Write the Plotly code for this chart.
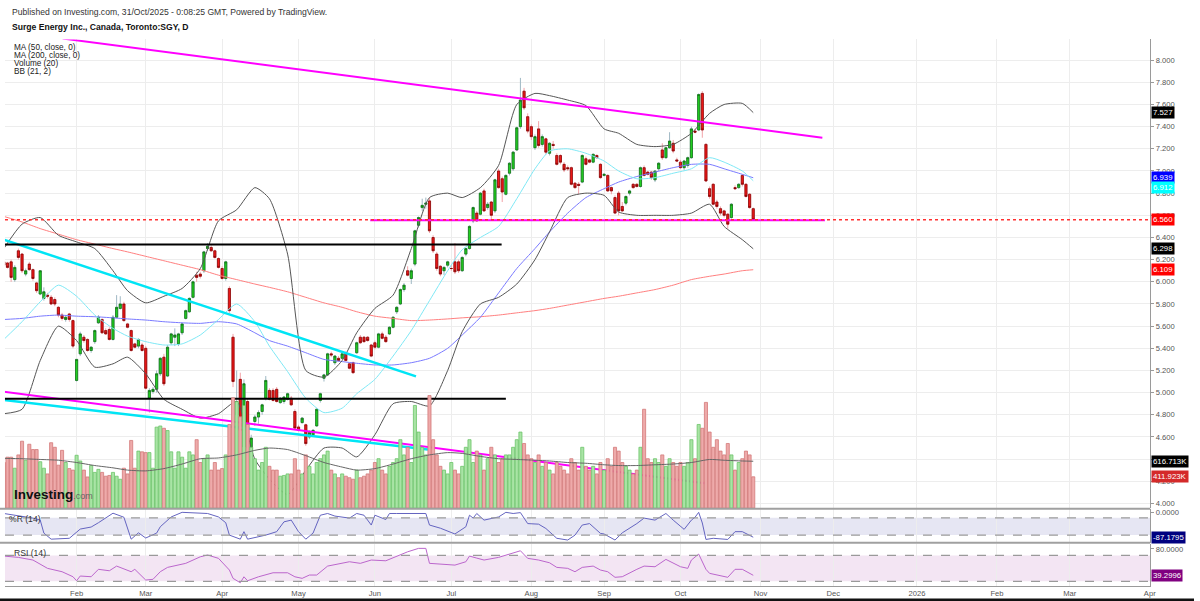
import numpy as np
import pandas as pd
import plotly.graph_objects as go

W, H = 1200, 601

# ---------------- data ----------------
HOLIDAYS = ["2025-01-01", "2025-02-17", "2025-04-18", "2025-05-19",
            "2025-07-01", "2025-08-04", "2025-09-01", "2025-10-13"]
DATES = [d.strftime("%Y-%m-%d") for d in pd.bdate_range("2025-01-02", "2025-10-30")
         if d.strftime("%Y-%m-%d") not in HOLIDAYS]

OPEN = [
    # Jan
    6.05, 6.10, 6.18, 6.17, 6.18, 6.02, 6.28, 6.25, 6.07, 6.16, 6.11, 5.99, 5.89, 5.85, 5.88, 5.86, 5.84, 5.77, 5.70, 5.66, 5.71, 5.65,
    # Feb
    5.11, 5.35, 5.50, 5.48, 5.38, 5.46, 5.63, 5.66, 5.56, 5.57, 5.48, 5.68, 5.76, 5.80, 5.62, 5.56, 5.44, 5.42, 5.43,
    # Mar
    5.40, 4.95, 5.01, 5.03, 5.17, 5.32, 5.15, 5.45, 5.50, 5.44, 5.54, 5.67, 5.73, 5.86, 6.06, 6.07, 6.10, 6.30, 6.31, 6.28, 6.21,
    # Apr
    6.12, 6.03, 5.94, 5.50, 4.80, 5.12, 4.51, 4.92, 4.48, 4.74, 4.78, 4.83, 4.95, 5.02, 5.02, 5.03, 4.91, 4.92, 4.94, 4.95, 4.83,
    # May
    4.69, 4.73, 4.71, 4.60, 4.62, 4.70, 4.93, 5.13, 5.16, 5.35, 5.27, 5.31, 5.31, 5.36, 5.26, 5.27, 5.36, 5.50, 5.50, 5.50, 5.43,
    # Jun
    5.45, 5.41, 5.53, 5.50, 5.53, 5.59, 5.73, 5.80, 5.93, 6.10, 6.03, 6.16, 6.51, 6.67, 6.70, 6.73, 6.40, 6.25, 6.14, 6.10, 6.15,
    # Jul
    6.12, 6.18, 6.18, 6.10, 6.25, 6.30, 6.55, 6.62, 6.61, 6.82, 6.67, 6.72, 6.64, 7.00, 6.93, 6.79, 6.98, 7.02, 7.19, 7.40, 7.72, 7.49,
    # Aug
    7.40, 7.21, 7.38, 7.24, 7.29, 7.16, 7.24, 7.14, 7.14, 7.06, 7.03, 7.03, 6.89, 6.88, 6.90, 7.11, 7.10, 7.08, 7.14, 7.06,
    # Sep
    6.96, 6.96, 6.85, 6.76, 6.80, 6.68, 6.71, 6.80, 6.88, 6.88, 6.86, 7.03, 6.99, 6.99, 6.92, 7.02, 7.19, 7.12, 7.21, 7.25, 7.10,
    # Oct
    7.08, 7.03, 7.05, 7.12, 7.36, 7.37, 7.70, 7.24, 6.84, 6.88, 6.72, 6.66, 6.64, 6.61, 6.58, 6.85, 6.85, 6.96, 6.88, 6.79, 6.66,
]
HIGH = [
    6.12, 6.20, 6.22, 6.18, 6.20, 6.15, 6.30, 6.26, 6.12, 6.18, 6.12, 6.00, 6.10, 5.95, 5.90, 5.88, 5.86, 5.78, 5.72, 5.70, 5.72, 5.66,
    5.30, 5.55, 5.52, 5.49, 5.42, 5.57, 5.70, 5.67, 5.58, 5.59, 5.70, 5.88, 5.87, 5.82, 5.63, 5.57, 5.45, 5.49, 5.45,
    5.42, 5.04, 5.05, 5.20, 5.32, 5.35, 5.43, 5.54, 5.58, 5.54, 5.63, 5.75, 5.86, 6.01, 6.09, 6.09, 6.28, 6.35, 6.33, 6.29, 6.22,
    6.14, 6.19, 5.96, 5.53, 5.20, 5.18, 5.12, 4.95, 4.62, 4.80, 4.84, 4.90, 5.15, 5.04, 5.04, 5.05, 4.96, 4.97, 5.00, 4.97, 4.85,
    4.71, 4.78, 4.72, 4.66, 4.67, 4.86, 5.00, 5.17, 5.36, 5.37, 5.34, 5.33, 5.36, 5.37, 5.27, 5.28, 5.46, 5.52, 5.51, 5.51, 5.44,
    5.47, 5.54, 5.55, 5.52, 5.60, 5.69, 5.78, 5.94, 5.99, 6.14, 6.12, 6.47, 6.59, 6.75, 6.76, 6.76, 6.42, 6.27, 6.15, 6.14, 6.19,
    6.15, 6.35, 6.20, 6.23, 6.31, 6.51, 6.68, 6.64, 6.81, 6.84, 6.72, 6.73, 6.93, 7.02, 6.95, 6.97, 7.08, 7.18, 7.40, 7.84, 7.75, 7.52,
    7.42, 7.33, 7.45, 7.33, 7.30, 7.26, 7.27, 7.16, 7.15, 7.08, 7.05, 7.04, 6.90, 6.90, 7.15, 7.13, 7.11, 7.16, 7.15, 7.07,
    6.98, 6.97, 6.86, 6.78, 6.82, 6.72, 6.78, 6.83, 6.89, 6.89, 7.04, 7.05, 7.00, 7.00, 7.00, 7.08, 7.25, 7.21, 7.35, 7.28, 7.12,
    7.10, 7.10, 7.13, 7.40, 7.38, 7.70, 7.72, 7.25, 6.86, 6.89, 6.74, 6.68, 6.65, 6.62, 6.71, 6.87, 6.89, 6.97, 6.89, 6.80, 6.67,
]
LOW = [
    6.02, 6.08, 6.12, 6.12, 6.00, 6.00, 6.20, 6.08, 6.05, 6.10, 6.01, 5.90, 5.88, 5.83, 5.85, 5.79, 5.78, 5.68, 5.65, 5.64, 5.64, 5.40,
    5.10, 5.33, 5.45, 5.37, 5.36, 5.44, 5.62, 5.53, 5.52, 5.47, 5.47, 5.67, 5.75, 5.64, 5.58, 5.37, 5.40, 5.40, 5.37,
    5.03, 4.82, 4.99, 5.00, 5.15, 5.06, 5.14, 5.43, 5.42, 5.42, 5.52, 5.66, 5.72, 5.85, 6.00, 6.03, 6.08, 6.28, 6.27, 6.21, 6.12,
    6.02, 6.01, 5.72, 5.05, 4.60, 4.62, 4.47, 4.48, 4.44, 4.70, 4.72, 4.80, 4.93, 4.93, 4.92, 4.91, 4.90, 4.90, 4.93, 4.88, 4.67,
    4.65, 4.72, 4.52, 4.58, 4.60, 4.69, 4.91, 5.10, 5.15, 5.32, 5.25, 5.28, 5.30, 5.28, 5.21, 5.17, 5.35, 5.44, 5.45, 5.46, 5.32,
    5.39, 5.40, 5.48, 5.45, 5.52, 5.58, 5.71, 5.79, 5.91, 6.05, 5.98, 6.14, 6.49, 6.64, 6.66, 6.44, 6.26, 6.10, 6.05, 6.06, 6.13,
    6.10, 6.07, 6.08, 6.09, 6.23, 6.29, 6.53, 6.54, 6.60, 6.63, 6.65, 6.55, 6.62, 6.84, 6.72, 6.78, 6.96, 7.00, 7.18, 7.38, 7.55, 7.34,
    7.28, 7.19, 7.21, 7.22, 7.15, 7.14, 7.20, 7.05, 7.06, 6.99, 7.00, 6.87, 6.84, 6.79, 6.89, 7.05, 7.07, 7.07, 7.11, 6.93,
    6.95, 6.81, 6.79, 6.61, 6.60, 6.63, 6.69, 6.78, 6.84, 6.85, 6.85, 6.95, 6.96, 6.92, 6.90, 7.00, 7.10, 7.11, 7.20, 7.16, 7.08,
    7.02, 7.01, 7.03, 7.11, 7.34, 7.36, 7.30, 6.90, 6.75, 6.69, 6.66, 6.60, 6.58, 6.48, 6.57, 6.83, 6.84, 6.86, 6.76, 6.66, 6.55,
]
CLOSE = [
    6.10, 6.18, 6.15, 6.13, 6.04, 6.13, 6.22, 6.10, 6.10, 6.11, 6.03, 5.92, 6.10, 5.91, 5.87, 5.80, 5.80, 5.70, 5.67, 5.68, 5.66, 5.42,
    5.30, 5.53, 5.47, 5.38, 5.41, 5.56, 5.68, 5.54, 5.53, 5.48, 5.68, 5.77, 5.80, 5.65, 5.59, 5.38, 5.41, 5.48, 5.38,
    5.04, 5.02, 5.03, 5.17, 5.31, 5.08, 5.41, 5.53, 5.52, 5.53, 5.62, 5.74, 5.85, 6.00, 6.04, 6.05, 6.27, 6.32, 6.28, 6.22, 6.13,
    6.03, 6.18, 5.74, 5.10, 4.92, 4.66, 5.08, 4.50, 4.59, 4.78, 4.82, 4.89, 5.11, 4.94, 4.93, 4.92, 4.95, 4.96, 4.99, 4.89, 4.68,
    4.66, 4.77, 4.54, 4.64, 4.66, 4.85, 4.99, 5.16, 5.35, 5.34, 5.33, 5.29, 5.35, 5.29, 5.22, 5.18, 5.45, 5.45, 5.46, 5.47, 5.33,
    5.41, 5.53, 5.49, 5.46, 5.59, 5.68, 5.77, 5.93, 5.97, 6.06, 6.10, 6.46, 6.58, 6.69, 6.71, 6.46, 6.28, 6.12, 6.07, 6.13, 6.18,
    6.12, 6.09, 6.10, 6.22, 6.30, 6.50, 6.67, 6.55, 6.80, 6.64, 6.70, 6.60, 6.92, 6.85, 6.81, 6.96, 7.07, 7.17, 7.39, 7.64, 7.57, 7.36,
    7.31, 7.31, 7.23, 7.31, 7.17, 7.25, 7.23, 7.06, 7.08, 7.01, 7.02, 6.88, 6.85, 6.87, 7.14, 7.06, 7.08, 7.15, 7.12, 6.94,
    6.97, 6.82, 6.82, 6.62, 6.64, 6.64, 6.77, 6.82, 6.85, 6.86, 7.03, 6.96, 6.97, 6.94, 7.00, 7.07, 7.12, 7.21, 7.27, 7.18, 7.09,
    7.03, 7.09, 7.12, 7.38, 7.35, 7.69, 7.37, 6.91, 6.77, 6.70, 6.68, 6.62, 6.60, 6.52, 6.70, 6.84, 6.88, 6.88, 6.77, 6.67, 6.56,
]
VOLUME = [
    420000, 520000, 600000, 670000, 670000, 525000, 700000, 880000, 630000, 840000, 770000, 770000, 610000, 525000, 450000, 860000, 800000, 565000, 760000, 600000, 520000, 500000,
    695000, 620000, 500000, 410000, 560000, 470000, 510000, 470000, 420000, 430000, 470000, 420000, 380000, 525000, 450000, 890000, 525000, 750000, 740000,
    730000, 730000, 525000, 1065000, 1080000, 1050000, 1020000, 740000, 525000, 740000, 670000, 525000, 740000, 700000, 900000, 600000, 650000, 700000, 500000, 600000, 500000,
    520000, 700000, 1100000, 1450000, 1400000, 1200000, 1350000, 1100000, 800000, 650000, 500000, 600000, 800000, 550000, 500000, 500000, 420000, 430000, 450000, 450000, 650000,
    500000, 450000, 700000, 550000, 450000, 600000, 650000, 700000, 750000, 500000, 450000, 400000, 450000, 420000, 400000, 380000, 500000, 400000, 420000, 450000, 500000,
    600000, 650000, 500000, 450000, 550000, 600000, 650000, 900000, 700000, 800000, 600000, 1350000, 1000000, 800000, 700000, 1480000, 900000, 700000, 550000, 500000, 450000,
    600000, 500000, 450000, 550000, 800000, 900000, 600000, 750000, 700000, 500000, 650000, 800000, 700000, 600000, 650000, 700000, 700000, 800000, 900000, 1000000, 850000, 700000,
    650000, 600000, 700000, 550000, 600000, 500000, 450000, 600000, 550000, 500000, 450000, 650000, 600000, 500000, 800000, 550000, 500000, 550000, 450000, 600000,
    500000, 650000, 550000, 800000, 750000, 600000, 550000, 500000, 450000, 500000, 800000, 1300000, 650000, 600000, 650000, 600000, 700000, 550000, 650000, 600000, 550000,
    600000, 550000, 600000, 900000, 650000, 1100000, 1050000, 1390000, 1000000, 800000, 900000, 750000, 700000, 850000, 700000, 500000, 600000, 650000, 750000, 700000, 411923,
]

# indicator readings (sampled roughly weekly)
IND_DATES = ["2025-01-06", "2025-01-13", "2025-01-20", "2025-01-27",
             "2025-02-03", "2025-02-10", "2025-02-18", "2025-02-24",
             "2025-03-03", "2025-03-10", "2025-03-17", "2025-03-24", "2025-03-31",
             "2025-04-07", "2025-04-14", "2025-04-21", "2025-04-28",
             "2025-05-05", "2025-05-12", "2025-05-20", "2025-05-26",
             "2025-06-02", "2025-06-09", "2025-06-16", "2025-06-23", "2025-06-30",
             "2025-07-07", "2025-07-14", "2025-07-21", "2025-07-28",
             "2025-08-05", "2025-08-11", "2025-08-18", "2025-08-25",
             "2025-09-02", "2025-09-08", "2025-09-15", "2025-09-22", "2025-09-29",
             "2025-10-06", "2025-10-14", "2025-10-20", "2025-10-27", "2025-10-30"]
MA200 = [6.59, 6.54, 6.48, 6.43, 6.38, 6.34, 6.30, 6.27, 6.23, 6.19, 6.15, 6.11, 6.06,
         6.02, 5.98, 5.95, 5.91, 5.86, 5.81, 5.77, 5.73, 5.69, 5.67, 5.65, 5.655, 5.665,
         5.675, 5.685, 5.70, 5.72, 5.74, 5.76, 5.79, 5.82, 5.85, 5.87, 5.90, 5.93, 5.97,
         6.02, 6.05, 6.07, 6.10, 6.109]
MA50 = [5.66, 5.67, 5.69, 5.70, 5.69, 5.685, 5.675, 5.665, 5.655, 5.64, 5.63, 5.625, 5.64,
        5.62, 5.54, 5.47, 5.42, 5.36, 5.30, 5.28, 5.265, 5.25, 5.25, 5.27, 5.31, 5.40,
        5.52, 5.68, 5.90, 6.12, 6.30, 6.45, 6.62, 6.76, 6.84, 6.90, 6.95, 6.99, 7.03,
        7.06, 7.06, 7.02, 6.97, 6.939]
BB_MID = [5.48, 5.64, 5.82, 5.97, 5.87, 5.70, 5.58, 5.51, 5.46, 5.43, 5.44, 5.52, 5.66,
          5.80, 5.64, 5.42, 5.19, 4.95, 4.82, 4.86, 4.99, 5.12, 5.33, 5.56, 5.83, 6.10,
          6.29, 6.40, 6.50, 6.75, 7.02, 7.18, 7.20, 7.16, 7.09, 7.00, 6.93, 6.94, 6.98,
          7.02, 7.12, 7.08, 7.00, 6.912]
BB_UP = [6.30, 6.52, 6.58, 6.42, 6.36, 6.30, 6.10, 5.92, 5.81, 5.87, 5.94, 6.12, 6.55,
         6.65, 6.85, 6.75, 6.25, 5.20, 5.14, 5.29, 5.54, 5.76, 5.88, 6.30, 6.76, 6.80,
         6.76, 6.85, 7.05, 7.60, 7.70, 7.68, 7.64, 7.59, 7.38, 7.34, 7.24, 7.22, 7.24,
         7.34, 7.52, 7.60, 7.61, 7.527]
BB_LO = [4.81, 4.85, 5.29, 5.60, 5.47, 5.23, 5.26, 5.32, 5.17, 4.94, 4.85, 4.77, 4.81,
         4.92, 4.40, 4.22, 4.08, 4.30, 4.50, 4.50, 4.42, 4.62, 4.90, 4.92, 4.88, 5.20,
         5.55, 5.80, 5.86, 5.98, 6.20, 6.45, 6.76, 6.80, 6.78, 6.63, 6.60, 6.60, 6.60,
         6.62, 6.70, 6.50, 6.38, 6.298]
VOL_MA = [655000, 650000, 640000, 630000, 600000, 560000, 530000, 500000, 490000, 520000,
          580000, 650000, 660000, 700000, 760000, 790000, 770000, 690000, 600000, 540000,
          500000, 520000, 580000, 650000, 700000, 730000, 720000, 680000, 650000, 640000,
          630000, 620000, 600000, 590000, 570000, 560000, 560000, 570000, 580000, 600000,
          640000, 630000, 620000, 616713]

WR_DATES = ["2025-01-06", "2025-01-16", "2025-01-20", "2025-01-21", "2025-01-23", "2025-01-30",
            "2025-02-04", "2025-02-07", "2025-02-11", "2025-02-18", "2025-02-21", "2025-02-25",
            "2025-02-27", "2025-03-03", "2025-03-06", "2025-03-07", "2025-03-12", "2025-03-17",
            "2025-03-26", "2025-03-31", "2025-04-02", "2025-04-03", "2025-04-08", "2025-04-09",
            "2025-04-10", "2025-04-17", "2025-04-23", "2025-04-25", "2025-04-29", "2025-05-01",
            "2025-05-05", "2025-05-07", "2025-05-09", "2025-05-13", "2025-05-15", "2025-05-22",
            "2025-05-26", "2025-05-28", "2025-05-30", "2025-06-02", "2025-06-05", "2025-06-06",
            "2025-06-10", "2025-06-20", "2025-06-23", "2025-06-26", "2025-07-03", "2025-07-08",
            "2025-07-09", "2025-07-10", "2025-07-11", "2025-07-15", "2025-07-21", "2025-07-23",
            "2025-07-25", "2025-07-29", "2025-07-31", "2025-08-06", "2025-08-08", "2025-08-13",
            "2025-08-18", "2025-08-20", "2025-08-22", "2025-08-26", "2025-08-29", "2025-09-02",
            "2025-09-05", "2025-09-09", "2025-09-15", "2025-09-17", "2025-09-22", "2025-09-25",
            "2025-09-29", "2025-10-02", "2025-10-06", "2025-10-07", "2025-10-08", "2025-10-09",
            "2025-10-10", "2025-10-15", "2025-10-21", "2025-10-23", "2025-10-27", "2025-10-30"]
WR = [-5, -21, -28, -73, -94, -91, -59, -52, -37, -4, -18, -94, -72, -90, -73, -51, -17, -1,
      -5, -17, -37, -80, -94, -68, -94, -80, -68, -34, -28, -68, -94, -73, -11, -5, -14, -21,
      -5, -11, -45, -11, -26, -5, -5, -5, -45, -56, -76, -51, -11, -21, -5, -28, -17, -1,
      -5, -2, -40, -42, -57, -91, -97, -80, -45, -40, -74, -76, -97, -72, -40, -21, -28, -5,
      -28, -60, -28, -18, -1, -38, -95, -91, -95, -68, -68, -87.1795]

RSI_DATES = ["2025-01-06", "2025-01-10", "2025-01-16", "2025-01-20", "2025-01-22", "2025-01-28",
             "2025-01-31", "2025-02-03", "2025-02-04", "2025-02-07", "2025-02-11", "2025-02-14",
             "2025-02-19", "2025-02-25", "2025-02-26", "2025-03-03", "2025-03-05", "2025-03-07",
             "2025-03-11", "2025-03-18", "2025-03-24", "2025-03-26", "2025-03-31", "2025-04-03",
             "2025-04-04", "2025-04-08", "2025-04-09", "2025-04-10", "2025-04-15", "2025-04-22",
             "2025-04-28", "2025-04-30", "2025-05-02", "2025-05-06", "2025-05-08", "2025-05-13",
             "2025-05-22", "2025-05-27", "2025-05-30", "2025-06-05", "2025-06-10", "2025-06-13",
             "2025-06-18", "2025-06-20", "2025-06-23", "2025-06-27", "2025-07-03", "2025-07-08",
             "2025-07-09", "2025-07-11", "2025-07-15", "2025-07-21", "2025-07-23", "2025-07-29",
             "2025-07-31", "2025-08-06", "2025-08-11", "2025-08-13", "2025-08-18", "2025-08-20",
             "2025-08-22", "2025-08-27", "2025-08-29", "2025-09-03", "2025-09-05", "2025-09-09",
             "2025-09-15", "2025-09-17", "2025-09-22", "2025-09-25", "2025-10-01", "2025-10-03",
             "2025-10-06", "2025-10-08", "2025-10-10", "2025-10-14", "2025-10-21", "2025-10-23",
             "2025-10-27", "2025-10-30"]
RSI = [68.9, 66.9, 62.8, 56.6, 50.0, 44.8, 37.1, 30.9, 38.2, 37.1, 48.5, 46.3, 53.5, 44.8, 48.5,
       32.0, 33.1, 44.8, 51.5, 57.7, 67.8, 70.5, 65.4, 47.4, 34.6, 27.8, 37.0, 30.9, 37.0, 43.2,
       43.2, 37.0, 34.6, 39.7, 39.7, 53.5, 60.2, 57.7, 62.8, 61.7, 68.9, 75.5, 80.8, 80.8, 57.7,
       56.6, 55.0, 60.2, 68.9, 65.8, 62.8, 66.9, 70.5, 77.1, 65.4, 62.8, 58.6, 51.5, 50.0, 44.8,
       51.5, 53.5, 47.4, 44.8, 36.2, 37.1, 48.5, 53.5, 52.5, 63.8, 52.5, 50.0, 62.8, 72.0, 48.5,
       42.3, 36.2, 48.5, 48.5, 39.2996]

# drawn trendlines (date, price) end points
TREND_X = [["2025-01-28 04:00", "2025-11-26 00:00"],
           ["2025-05-29 17:00", "2025-11-26 17:00"],
           ["2025-01-06 00:00", "2025-10-09 14:00"],
           ["2025-01-06 00:00", "2025-06-17 07:00"],
           ["2025-01-06 00:00", "2025-06-20 14:00"],
           ["2025-01-06 00:00", "2025-07-21 20:00"],
           ["2025-01-06 00:00", "2025-07-23 00:00"]]
TREND_Y = [[8.195, 7.30], [6.555, 6.555], [5.009, 4.183], [6.38, 5.147],
           [4.933, 4.487], [6.336, 6.336], [4.945, 4.945]]
TREND_STYLE = [("#ff00ff", 2), ("#ff00ff", 2), ("#ff00ff", 2), ("#00e5f5", 2.5),
               ("#00e5f5", 2.5), ("#000000", 2), ("#000000", 2)]

TICK_DATES = ["2025-02-03", "2025-03-03", "2025-04-01", "2025-05-01", "2025-06-02", "2025-07-02",
              "2025-08-01", "2025-09-02", "2025-10-01", "2025-11-03", "2025-12-01", "2026-01-01",
              "2026-02-02", "2026-03-02", "2026-04-01"]
TICK_TEXT = ["Feb", "Mar", "Apr", "May", "Jun", "Jul", "Aug", "Sep", "Oct", "Nov", "Dec", "2026",
             "Feb", "Mar", "Apr"]

assert len(DATES) == len(OPEN) == len(HIGH) == len(LOW) == len(CLOSE) == len(VOLUME)

# ---------------- geometry ----------------
def py(px):
    return 1 - px / H

X_DOM = [5 / W, 1156 / W]
MAIN_DOM = [py(508), py(38.5)]
WR_DOM = [py(542.5), py(509)]
RSI_DOM = [py(586), py(543.5)]
X_RANGE = ["2025-01-06 07:26", "2026-04-01 03:00"]
P_RANGE = [3.9577, 8.187]
V_RANGE = [0, 6.161e6]
WR_RANGE = [-105.9, 10.03]
RSI_RANGE = [22.77, 88.15]
FONT = "Arial, Liberation Sans, sans-serif"

o = np.array(OPEN); c = np.array(CLOSE)
up = c >= o

fig = go.Figure()

# volume
fig.add_trace(go.Bar(
    x=DATES, y=VOLUME, yaxis="y2",
    marker=dict(color=np.where(up, "#a9e4a5", "#eeaaaa"),
                line=dict(color=np.where(up, "#6cc46a", "#d37a7a"), width=0.8)),
    hoverinfo="skip"))
fig.add_trace(go.Scatter(x=IND_DATES, y=VOL_MA, yaxis="y2", mode="lines",
                         line=dict(color="#666666", width=1, shape="spline", smoothing=0.6),
                         hoverinfo="skip"))

# MAs and Bollinger
for vals, col, w in [(MA200, "#ff7f7f", 1), (MA50, "#7a7aff", 1), (BB_MID, "#7fe8f5", 1),
                     (BB_UP, "#555555", 1), (BB_LO, "#555555", 1)]:
    fig.add_trace(go.Scatter(x=IND_DATES, y=vals, mode="lines",
                             line=dict(color=col, width=w, shape="spline", smoothing=0.6),
                             hoverinfo="skip"))

# trendlines
for tx, ty, (col, w) in zip(TREND_X, TREND_Y, TREND_STYLE):
    fig.add_trace(go.Scatter(x=tx, y=ty, mode="lines", line=dict(color=col, width=w),
                             hoverinfo="skip"))

# candles: wicks then bodies
fig.add_trace(go.Candlestick(
    x=DATES, open=OPEN, high=HIGH, low=LOW, close=CLOSE,
    increasing=dict(line=dict(color="#9fb8c4", width=1), fillcolor="#9fb8c4"),
    decreasing=dict(line=dict(color="#f2a3a8", width=1), fillcolor="#f2a3a8"),
    whiskerwidth=0, hoverinfo="skip"))
fig.add_trace(go.Candlestick(
    x=DATES, open=OPEN, high=np.maximum(o, c), low=np.minimum(o, c), close=CLOSE,
    increasing=dict(line=dict(color="#0d6b0d", width=0.7), fillcolor="#22d022"),
    decreasing=dict(line=dict(color="#7a0000", width=0.7), fillcolor="#f01818"),
    whiskerwidth=0, hoverinfo="skip"))

# %R and RSI
fig.add_trace(go.Scatter(x=WR_DATES, y=WR, yaxis="y3", mode="lines",
                         line=dict(color="#6464c0", width=1), hoverinfo="skip"))
fig.add_trace(go.Scatter(x=RSI_DATES, y=RSI, yaxis="y4", mode="lines",
                         line=dict(color="#bb66cc", width=1), hoverinfo="skip"))

shapes = []
# indicator bands
shapes.append(dict(type="rect", xref="x domain", x0=0, x1=1, yref="y3", y0=-80, y1=-20,
                   fillcolor="#e6e6f3", line=dict(width=0), layer="below"))
shapes.append(dict(type="rect", xref="x domain", x0=0, x1=1, yref="y4", y0=30, y1=70,
                   fillcolor="#f3e5f3", line=dict(width=0), layer="below"))
for yr, v in [("y3", -20), ("y3", -80), ("y4", 70), ("y4", 30)]:
    shapes.append(dict(type="line", xref="x domain", x0=0, x1=1, yref=yr, y0=v, y1=v,
                       line=dict(color="#9a9a9a", width=1.2, dash="dash")))
# last price line
shapes.append(dict(type="line", xref="x domain", x0=0, x1=1, yref="y", y0=CLOSE[-1], y1=CLOSE[-1],
                   line=dict(color="#ff3030", width=1.5, dash="dot")))
# pane separators
for ypx in [508.6, 542.6]:
    shapes.append(dict(type="line", xref="paper", x0=0, x1=1156 / W, yref="paper",
                       y0=py(ypx), y1=py(ypx), line=dict(color="#a0a0a0", width=2)))
# bottom border
shapes.append(dict(type="rect", xref="paper", x0=0, x1=1, yref="paper", y0=0, y1=py(598.5),
                   fillcolor="#111111", line=dict(width=0)))

ann = []
def text(x, y, s, size, color="#222222", bold=False, anchor="left"):
    ann.append(dict(xref="paper", yref="paper", x=x / W, y=py(y), text=(f"<b>{s}</b>" if bold else s),
                    showarrow=False, xanchor=anchor, yanchor="middle",
                    font=dict(family=FONT, size=size, color=color)))

text(10, 11.5, "Published on Investing.com, 31/Oct/2025 - 0:08:25 GMT, Powered by TradingView.", 8.6, "#333333")
text(10, 26, "Surge Energy Inc., Canada, Toronto:SGY, D", 8.6, "#111111", bold=True)
for i, s in enumerate(["MA (50, close, 0)", "MA (200, close, 0)", "Volume (20)", "BB (21, 2)"]):
    text(12, 46.8 + 8.1 * i, s, 8.2, "#222222")
text(7, 519, "%R (14)", 8.6, "#333333")
text(12, 553, "RSI (14)", 8.6, "#333333")
ann.append(dict(xref="paper", yref="paper", x=12 / W, y=py(494), xanchor="left", yanchor="middle",
                showarrow=False,
                text="<b>Investing</b><span style='font-size:9px;color:#666'>.com</span>",
                font=dict(family=FONT, size=13.5, color="#111111")))

# right-side value labels (stacked apart like the platform does when they collide)
def vlabel(yref, v, s, bg, fg="#ffffff", shift_px=0.0):
    ann.append(dict(xref="paper", x=1157 / W, yref=yref, y=v, text=s, showarrow=False,
                    xanchor="left", yanchor="middle", bgcolor=bg, borderpad=1, yshift=-shift_px,
                    font=dict(family=FONT, size=7.8, color=fg)))

vlabel("y", BB_UP[-1], f"{BB_UP[-1]:.3f}", "#000000")
vlabel("y", MA50[-1], f"{MA50[-1]:.3f}", "#0000ff")
vlabel("y", BB_MID[-1], f"{BB_MID[-1]:.3f}", "#00ffff", shift_px=7)
vlabel("y", CLOSE[-1], f"{CLOSE[-1]:.3f}", "#ff0000")
vlabel("y", BB_LO[-1], f"{BB_LO[-1]:.3f}", "#000000")
vlabel("y", MA200[-1], f"{MA200[-1]:.3f}", "#ff0000")
vlabel("y2", VOL_MA[-1], f"{VOL_MA[-1] / 1000:.3f}K", "#000000")
vlabel("y2", VOLUME[-1], f"{VOLUME[-1] / 1000:.3f}K", "#d42a2a")
vlabel("y3", WR[-1], f"{WR[-1]:.4f}", "#000080")
vlabel("y4", RSI[-1], f"{RSI[-1]:.4f}", "#800080")

axis_common = dict(showline=True, linecolor="#9a9a9a", linewidth=1, ticks="outside", ticklen=3,
                   tickcolor="#9a9a9a", tickfont=dict(family=FONT, size=7.6, color="#555555"),
                   zeroline=False, side="right", anchor="x")

fig.update_layout(
    width=W, height=H, margin=dict(l=0, r=0, t=0, b=0),
    paper_bgcolor="#ffffff", plot_bgcolor="#ffffff", showlegend=False,
    bargap=0.15, boxgap=0.15, hovermode=False,
    xaxis=dict(domain=X_DOM, anchor="y4", type="date", range=X_RANGE,
               rangebreaks=[dict(bounds=["sat", "mon"]), dict(values=HOLIDAYS)],
               tickvals=TICK_DATES, ticktext=TICK_TEXT, ticks="",
               showgrid=True, gridcolor="#ededed", gridwidth=1,
               showline=True, linecolor="#9a9a9a", zeroline=False,
               tickfont=dict(family=FONT, size=7.6, color="#555555"),
               rangeslider=dict(visible=False)),
    yaxis=dict(domain=MAIN_DOM, range=P_RANGE, dtick=0.2, tick0=0, tickformat=".3f",
               showgrid=True, gridcolor="#ededed", **axis_common),
    yaxis2=dict(overlaying="y", range=V_RANGE, visible=False, anchor="x", side="right"),
    yaxis3=dict(domain=WR_DOM, range=WR_RANGE, tickvals=[0], ticktext=["0.0000"],
                showgrid=False, **axis_common),
    yaxis4=dict(domain=RSI_DOM, range=RSI_RANGE, tickvals=[80], ticktext=["80.0000"],
                showgrid=False, **axis_common),
    shapes=shapes, annotations=ann,
)

fig.write_html("out.html", config={"displayModeBar": False})
